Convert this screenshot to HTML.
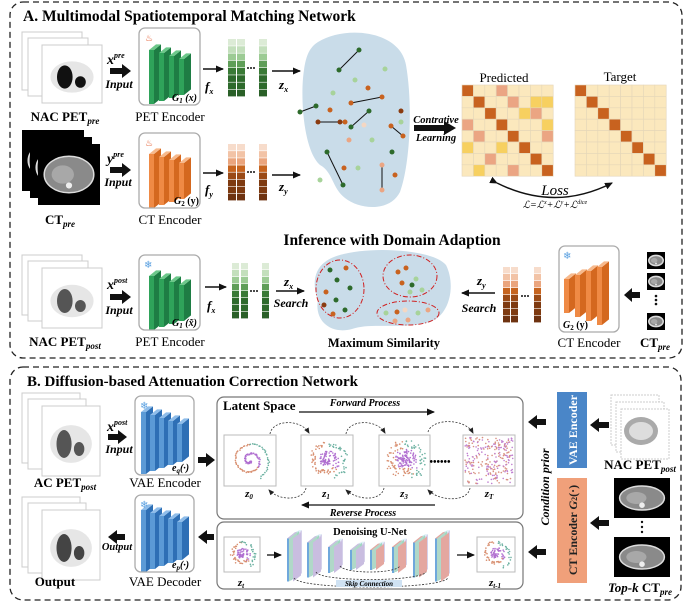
<!DOCTYPE html>
<html><head><meta charset="utf-8">
<style>
html,body{margin:0;padding:0;background:#fff;}
svg{display:block;font-family:"Liberation Serif",serif;}
.b{font-weight:bold;}
.i{font-style:italic;}
</style></head>
<body>
<svg id="s" width="685" height="604" viewBox="0 0 685 604" xmlns="http://www.w3.org/2000/svg">
<defs>
<marker id="ah" markerWidth="8" markerHeight="8" refX="7" refY="4" orient="auto" markerUnits="userSpaceOnUse"><path d="M0,0.5 L8,4 L0,7.5 Z" fill="#111"/></marker>
<marker id="ahs" markerWidth="6" markerHeight="6" refX="5" refY="3" orient="auto" markerUnits="userSpaceOnUse"><path d="M0,0.5 L6,3 L0,5.5 Z" fill="#222"/></marker>
</defs>
<!-- panels -->
<rect x="10" y="2" width="672" height="356" rx="13" fill="none" stroke="#222" stroke-width="1.3" stroke-dasharray="6,4"/>
<rect x="10" y="367" width="671" height="233" rx="13" fill="none" stroke="#222" stroke-width="1.3" stroke-dasharray="6,4"/>
<text x="23" y="21" class="b" font-size="15.5">A. Multimodal Spatiotemporal Matching Network</text>
<text x="27" y="386" class="b" font-size="15">B. Diffusion-based Attenuation Correction Network</text>

<!-- blobs -->
<path d="M318,42 C345,25 400,30 406,65 C413,105 410,165 400,192 C390,212 360,210 345,198 C332,188 333,172 320,165 C303,150 300,95 304,70 C306,55 310,47 318,42 Z" fill="#c9dce9"/>
<path d="M325,262 C345,245 430,246 446,265 C456,285 450,315 430,322 C400,330 372,322 352,329 C330,335 314,320 318,300 C312,285 314,270 325,262 Z" fill="#c9dce9"/>
<ellipse cx="340" cy="289" rx="24" ry="29" fill="none" stroke="#d02020" stroke-width="1" stroke-dasharray="5,2,1,2"/>
<ellipse cx="410" cy="276" rx="27" ry="21" fill="none" stroke="#d02020" stroke-width="1" stroke-dasharray="5,2,1,2"/>
<ellipse cx="408" cy="313" rx="31" ry="12" fill="none" stroke="#d02020" stroke-width="1" stroke-dasharray="5,2,1,2"/>

<g id="gen"></g>

<!-- encoder boxes A -->
<rect x="139" y="28" width="61" height="77" rx="6" fill="none" stroke="#aaa" stroke-width="1.3"/>
<rect x="139" y="133" width="61" height="75" rx="6" fill="none" stroke="#aaa" stroke-width="1.3"/>
<rect x="139" y="255" width="61" height="75" rx="6" fill="none" stroke="#aaa" stroke-width="1.3"/>
<rect x="559" y="246" width="60" height="86" rx="6" fill="none" stroke="#aaa" stroke-width="1.3"/>
<text x="145" y="41" font-size="9" fill="#e2572a">♨</text>
<text x="145" y="146" font-size="9" fill="#e2572a">♨</text>
<text x="144" y="268" font-size="10" fill="#5aa0e0">❄</text>
<text x="563" y="259" font-size="10" fill="#5aa0e0">❄</text>
<text x="172" y="101" class="b i" font-size="10">G<tspan font-size="7" dy="2">1</tspan><tspan dy="-2"> (x)</tspan></text>
<text x="174" y="204" class="b" font-size="10"><tspan class="i">G</tspan><tspan font-size="7" dy="2">2</tspan><tspan dy="-2"> (y)</tspan></text>
<text x="172" y="326" class="b i" font-size="10">G<tspan font-size="7" dy="2">1</tspan><tspan dy="-2"> (x̃)</tspan></text>
<text x="563" y="328" class="b" font-size="10"><tspan class="i">G</tspan><tspan font-size="7" dy="2">2</tspan><tspan dy="-2"> (y)</tspan></text>
<text x="170" y="121" font-size="13" text-anchor="middle">PET Encoder</text>
<text x="170" y="224" font-size="13" text-anchor="middle">CT Encoder</text>
<text x="170" y="346" font-size="13" text-anchor="middle">PET Encoder</text>
<text x="589" y="347" font-size="13" text-anchor="middle">CT Encoder</text>

<!-- labels left A -->
<text x="65" y="121" class="b" font-size="13" text-anchor="middle">NAC PET<tspan class="i" font-size="9" dy="3">pre</tspan></text>
<text x="60" y="224" class="b" font-size="13" text-anchor="middle">CT<tspan class="i" font-size="9" dy="3">pre</tspan></text>
<text x="65" y="346" class="b" font-size="13" text-anchor="middle">NAC PET<tspan class="i" font-size="9" dy="3">post</tspan></text>
<text x="655" y="347" class="b" font-size="13" text-anchor="middle">CT<tspan class="i" font-size="9" dy="3">pre</tspan></text>

<g class="b i" font-size="12">
<text x="107" y="64" font-size="14">x<tspan font-size="8" dy="-6">pre</tspan></text>
<text x="119" y="88" text-anchor="middle">Input</text>
<text x="107" y="163" font-size="14">y<tspan font-size="8" dy="-6">pre</tspan></text>
<text x="118" y="186" text-anchor="middle">Input</text>
<text x="107" y="289" font-size="14">x<tspan font-size="8" dy="-6">post</tspan></text>
<text x="119" y="314" text-anchor="middle">Input</text>
<text x="205" y="91" font-size="13">f<tspan font-size="8" dy="3">x</tspan></text>
<text x="205" y="194" font-size="13">f<tspan font-size="8" dy="3">y</tspan></text>
<text x="207" y="310" font-size="13">f<tspan font-size="8" dy="3">x</tspan></text>
<text x="279" y="89" font-size="13">z<tspan font-size="8" dy="3">x</tspan></text>
<text x="279" y="191" font-size="13">z<tspan font-size="8" dy="3">y</tspan></text>
<text x="284" y="286" font-size="13">z<tspan font-size="8" dy="3">x</tspan></text>
<text x="291" y="307" text-anchor="middle">Search</text>
<text x="477" y="285" font-size="13">z<tspan font-size="8" dy="3">y</tspan></text>
<text x="479" y="312" text-anchor="middle">Search</text>
<text x="436" y="123" font-size="10.5" text-anchor="middle">Contrative</text>
<text x="436" y="141" font-size="10.5" text-anchor="middle">Learning</text>
</g>

<!-- arrows A -->
<g stroke="#111" fill="none">
<line x1="203" y1="69" x2="223" y2="69" stroke-width="1.5" marker-end="url(#ah)"/>
<line x1="272" y1="71" x2="300" y2="71" stroke-width="1.5" marker-end="url(#ah)"/>
<line x1="203" y1="173" x2="223" y2="173" stroke-width="1.5" marker-end="url(#ah)"/>
<line x1="272" y1="175" x2="300" y2="175" stroke-width="1.5" marker-end="url(#ah)"/>
<line x1="205" y1="287" x2="226" y2="287" stroke-width="1.5" marker-end="url(#ah)"/>
<line x1="276" y1="291" x2="304" y2="291" stroke-width="1.5" marker-end="url(#ah)"/>
<line x1="495" y1="293" x2="462" y2="293" stroke-width="1.5" marker-end="url(#ah)"/>
<path d="M497,183 Q555,212 612,183" stroke-width="1.5" marker-end="url(#ah)" marker-start="url(#ah)"/>
</g>
<g fill="#111">
<path d="M110,68 h12 v-4 l9,7 l-9,7 v-4 h-12 Z"/>
<path d="M110,167 h12 v-4 l9,7 l-9,7 v-4 h-12 Z"/>
<path d="M110,294 h12 v-4 l9,7 l-9,7 v-4 h-12 Z"/>
<path d="M414,125 h30 v-4 l12,7 l-12,7 v-4 h-30 Z"/>
<path d="M640,292 h-8 v-4 l-8,7 l8,7 v-4 h8 Z"/>
</g>
<text x="555" y="195" class="i" font-size="15" text-anchor="middle" font-family="Liberation Serif">Loss</text>
<text x="555" y="208" class="i" font-size="10" text-anchor="middle">ℒ=ℒ<tspan font-size="6" dy="-4">x</tspan><tspan dy="4">+ℒ</tspan><tspan font-size="6" dy="-4">y</tspan><tspan dy="4">+ℒ</tspan><tspan font-size="6" dy="-4">dice</tspan></text>
<text x="504" y="82" font-size="13" text-anchor="middle">Predicted</text>
<text x="620" y="81" font-size="13" text-anchor="middle">Target</text>
<text x="392" y="245" class="b" font-size="15.5" text-anchor="middle">Inference with Domain Adaption</text>
<text x="384" y="347" class="b" font-size="12.5" text-anchor="middle">Maximum Similarity</text>

<!-- Panel B boxes -->
<rect x="135" y="396" width="59" height="79" rx="6" fill="none" stroke="#aaa" stroke-width="1.3"/>
<rect x="135" y="495" width="59" height="77" rx="6" fill="none" stroke="#aaa" stroke-width="1.3"/>
<text x="140" y="409" font-size="10" fill="#5aa0e0">❄</text>
<text x="140" y="508" font-size="10" fill="#5aa0e0">❄</text>
<text x="172" y="471" class="b i" font-size="10">e<tspan font-size="7" dy="2">q</tspan><tspan dy="-2">(·)</tspan></text>
<text x="172" y="568" class="b i" font-size="10">e<tspan font-size="7" dy="2">p</tspan><tspan dy="-2">(·)</tspan></text>
<text x="165" y="487" font-size="13" text-anchor="middle">VAE Encoder</text>
<text x="165" y="586" font-size="13" text-anchor="middle">VAE Decoder</text>
<text x="65" y="487" class="b" font-size="13" text-anchor="middle">AC PET<tspan class="i" font-size="9" dy="3">post</tspan></text>
<text x="55" y="586" class="b" font-size="13" text-anchor="middle">Output</text>
<g class="b i" font-size="12">
<text x="107" y="431" font-size="14">x<tspan font-size="8" dy="-6">post</tspan></text>
<text x="119" y="453" text-anchor="middle">Input</text>
<text x="117" y="550" font-size="10.5" text-anchor="middle">Output</text>
</g>
<g fill="#111">
<path d="M108,434 h10 v-4 l9,7 l-9,7 v-4 h-10 Z"/>
<path d="M198,457 h8 v-4 l9,7 l-9,7 v-4 h-8 Z"/>
<path d="M125,534 h-8 v-4 l-9,7 l9,7 v-4 h8 Z"/>
<path d="M214,534 h-7 v-4 l-9,7 l9,7 v-4 h7 Z"/>
<path d="M546,419 h-9 v-4 l-9,7 l9,7 v-4 h9 Z"/>
<path d="M546,549 h-9 v-4 l-9,7 l9,7 v-4 h9 Z"/>
<path d="M609,422 h-10 v-4 l-9,7 l9,7 v-4 h10 Z"/>
<path d="M609,520 h-10 v-4 l-9,7 l9,7 v-4 h10 Z"/>
</g>
<rect x="217" y="397" width="306" height="122" rx="7" fill="none" stroke="#777" stroke-width="1.2"/>
<rect x="217" y="522" width="306" height="67" rx="7" fill="none" stroke="#777" stroke-width="1.2"/>
<text x="223" y="410" class="b" font-size="13">Latent Space</text>
<text x="365" y="406" class="b i" font-size="10" text-anchor="middle">Forward Process</text>
<text x="363" y="516" class="b i" font-size="10" text-anchor="middle">Reverse Process</text>
<text x="370" y="535" class="b" font-size="10.5" text-anchor="middle">Denoising U-Net</text>
<line x1="299" y1="412" x2="434" y2="412" stroke="#111" stroke-width="1.3" marker-end="url(#ah)"/>
<line x1="435" y1="505" x2="302" y2="505" stroke="#111" stroke-width="1.3" marker-end="url(#ah)"/>
<line x1="267" y1="555" x2="281" y2="555" stroke="#111" stroke-width="1.3" marker-end="url(#ah)"/>
<line x1="457" y1="555" x2="474" y2="555" stroke="#111" stroke-width="1.3" marker-end="url(#ah)"/>
<g fill="none" stroke="#333" stroke-width="0.8" stroke-dasharray="2,1.5">
<path d="M270,434 C272,420 300,418 309,433" marker-end="url(#ahs)"/>
<path d="M346,434 C348,420 376,418 385,433" marker-end="url(#ahs)"/>
<path d="M428,432 C432,418 465,418 473,433" marker-end="url(#ahs)"/>
<path d="M306,488 C304,500 280,502 269,490" marker-end="url(#ahs)"/>
<path d="M384,488 C382,500 360,502 346,490" marker-end="url(#ahs)"/>
<path d="M470,488 C468,502 440,502 428,490" marker-end="url(#ahs)"/>
<path d="M294,578 C300,590 440,590 448,578"/>
<path d="M316,572 C320,582 420,582 426,572"/>
<path d="M340,566 C345,574 395,574 400,566"/>
</g>
<rect x="336" y="580" width="66" height="7" fill="#cfe2f3"/>
<text x="369" y="586" class="b i" font-size="7" text-anchor="middle">Skip Connection</text>
<text x="440" y="465" class="b" font-size="10" text-anchor="middle">••••••</text>
<g class="b i" font-size="11" text-anchor="middle">
<text x="249" y="497">z<tspan font-size="7" dy="2">0</tspan></text>
<text x="326" y="497">z<tspan font-size="7" dy="2">1</tspan></text>
<text x="404" y="497">z<tspan font-size="7" dy="2">3</tspan></text>
<text x="489" y="497">z<tspan font-size="7" dy="2">T</tspan></text>
<text x="241" y="586">z<tspan font-size="7" dy="2">t</tspan></text>
<text x="495" y="586">z<tspan font-size="7" dy="2">t-1</tspan></text>
</g>
<text transform="translate(549,487) rotate(-90)" class="b i" font-size="12" text-anchor="middle">Condition prior</text>
<rect x="557" y="392" width="30" height="76" fill="#4a86c8"/>
<rect x="557" y="478" width="30" height="105" fill="#f0a07a"/>
<text transform="translate(577,430) rotate(-90)" class="b" font-size="12" fill="#fff" text-anchor="middle">VAE Encoder</text>
<text transform="translate(577,530) rotate(-90)" class="b" font-size="12" fill="#222" text-anchor="middle">CT Encoder <tspan class="i">G</tspan><tspan font-size="8">2</tspan>(·)</text>
<text x="640" y="469" class="b" font-size="13" text-anchor="middle">NAC PET<tspan class="i" font-size="9" dy="3">post</tspan></text>
<text x="640" y="592" class="b" font-size="13" text-anchor="middle"><tspan class="i">Top-k</tspan> CT<tspan class="i" font-size="9" dy="3">pre</tspan></text>
</svg>
<script>
(function(){
var g=document.getElementById('gen'),NS='http://www.w3.org/2000/svg',h='';
function r(x,y,w,hh,f,extra){h+='<rect x="'+x+'" y="'+y+'" width="'+w+'" height="'+hh+'" fill="'+f+'" '+(extra||'')+'/>';}
function poly(p,f){h+='<polygon points="'+p+'" fill="'+f+'"/>';}
function c(x,y,rad,f){h+='<circle cx="'+x+'" cy="'+y+'" r="'+rad+'" fill="'+f+'"/>';}
function slab(x,y,hh,w,d,fr,sd,tp){
 r(x,y,w,hh,fr);
 poly((x+w)+','+y+' '+(x+w+d)+','+(y-d*0.8)+' '+(x+w+d)+','+(y+hh-d*0.8)+' '+(x+w)+','+(y+hh),sd);
 poly(x+','+y+' '+(x+d)+','+(y-d*0.8)+' '+(x+w+d)+','+(y-d*0.8)+' '+(x+w)+','+y,tp);
}
// encoders A
var G=['#2fa35a','#1e7d44','#6cc88a'],O=['#ef8a45','#d4681f','#f7b98c'],B=['#5b9ad6','#2e6fb5','#8fbdea'];
function enc(x0,cy,hs,col,step){for(var i=0;i<hs.length;i++){slab(x0+i*step,cy-hs[i]/2+3,hs[i],5,7,col[0],col[1],col[2]);}}
enc(149,74,[54,48,42,36],G,10);
enc(149,178,[54,48,42,36],O,10);
enc(149,300,[54,48,42,36],G,10);
enc(564,293,[34,42,50,58],O,11);
enc(141,440,[62,56,50,44,38],B,9);
enc(141,538,[62,56,50,44,38],B,9);
// feature bars
var gc=['#dcebd6','#c3dfbc','#9ccb94','#5f9e58','#3a7a36','#2e6a2c','#2e6a2c','#2a6028'];
var oc=['#f7dccb','#f2c3a6','#eaa57e','#c6641f','#9a4a16','#7e3a10','#7e3a10','#6e3210'];
function bars(xs,y0,hh,cols,w){xs.forEach(function(x){for(var i=0;i<8;i++){r(x,y0+i*hh/8,w,hh/8-0.6,cols[i]);}});}
bars([228,237,259],39,58,gc,8);
bars([228,237,259],144,57,oc,8);
bars([232,241,262],263,56,gc,7);
bars([503,511,534],267,56,oc,7);
function dots(x,y){for(var i=0;i<3;i++)c(x+i*3,y,1,'#111');}
dots(248,68);dots(248,172);dots(251,291);dots(522,296);
// matrices
var P=[[2,0,0,1,0,0,0,0],[0,2,0,0,1,0,3,3],[0,0,2,0,0,3,1,0],[1,0,0,2,0,0,0,3],[0,1,0,0,2,0,0,1],[3,0,0,3,0,2,0,0],[0,0,1,0,0,0,2,0],[0,3,0,0,1,0,0,2]];
var MC=['#fbe8bd','#eba583','#c8621f','#f7d060'],cs=11.4;
for(var i=0;i<8;i++)for(var j=0;j<8;j++){r(462+j*cs,85+i*cs,cs,cs,MC[P[i][j]],'stroke="#e4d6b8" stroke-width="0.6"');r(575+j*cs,85+i*cs,cs,cs,MC[i==j?2:0],'stroke="#e4d6b8" stroke-width="0.6"');}
// scatter A
var DG='#2d6a2b',LG='#a7d39a',OR='#c8621f',PE='#eba583',BR='#8a3b10',LP='#f4d7c3';
var L=[[339,70,359,50,DG],[318,122,340,122,BR],[351,103,382,97,OR],[369,111,351,127,DG],[391,126,403,136,OR],[382,165,382,190,PE],[327,152,343,185,DG],[316,106,300,112,DG]];
L.forEach(function(l){h+='<line x1="'+l[0]+'" y1="'+l[1]+'" x2="'+l[2]+'" y2="'+l[3]+'" stroke="#111" stroke-width="1"/>';c(l[0],l[1],2.5,l[4]);c(l[2],l[3],2.5,l[4]);});
[[333,93,LG],[385,69,LG],[368,88,OR],[364,125,LP],[401,111,BR],[401,122,LG],[349,140,PE],[372,140,LG],[392,152,DG],[358,168,LG],[344,168,OR],[320,180,LG],[330,110,OR],[355,80,LG],[395,175,OR],[345,122,OR]].forEach(function(d){c(d[0],d[1],2.5,d[2]);});
// scatter inference
[[330,270,DG],[337,280,DG],[326,292,OR],[336,300,DG],[345,310,DG],[333,314,OR],[350,288,DG],[324,305,BR],[346,268,OR],[398,272,OR],[406,268,OR],[402,283,OR],[412,285,DG],[416,279,LG],[422,290,LG],[410,292,LG],[386,313,LG],[397,312,OR],[405,310,LP],[418,313,LG],[428,310,PE],[395,321,PE],[408,320,PE]].forEach(function(d){c(d[0],d[1],2.5,d[2]);});
// scan images
function pet(x,y,w,hh,dark){r(x,y,w,hh,'#fff','stroke="#ccc" stroke-width="1"');
 h+='<ellipse cx="'+(x+w/2)+'" cy="'+(y+hh/2+3)+'" rx="'+(w*0.36)+'" ry="'+(hh*0.27)+'" fill="#e6e6e6"/>';
 h+='<ellipse cx="'+(x+w*0.38)+'" cy="'+(y+hh/2+3)+'" rx="'+(w*0.13)+'" ry="'+(hh*0.2)+'" fill="'+dark+'"/>';
 h+='<ellipse cx="'+(x+w*0.64)+'" cy="'+(y+hh/2+8)+'" rx="'+(w*0.09)+'" ry="'+(hh*0.1)+'" fill="'+dark+'"/>';}
function stack(x,y,w,hh,fn,dark){for(var i=0;i<3;i++){var xx=x+i*(i==2?10:6)+(i==2?0:0),yy=y+i*6+(i==2?1:0);if(i<2)r(xx,yy,w,hh,'#fff','stroke="#ccc" stroke-width="1"');else fn(xx,yy,w,hh,dark);}}
function ct(x,y,w,hh){r(x,y,w,hh,'#000');h+='<ellipse cx="'+(x+w/2)+'" cy="'+(y+hh/2)+'" rx="'+(w*0.4)+'" ry="'+(hh*0.3)+'" fill="#8a8a8a" stroke="#ddd" stroke-width="1.5"/>';h+='<ellipse cx="'+(x+w*0.4)+'" cy="'+(y+hh/2)+'" rx="'+(w*0.18)+'" ry="'+(hh*0.15)+'" fill="#a8a8a8"/>';c(x+w/2,y+hh*0.68,w*0.05,'#eee');}
stack(22,32,60,58,pet,'#111');
for(var i=0;i<3;i++){var xx=22+i*8,yy=130+i*7;ct(xx,yy,62,61);}
stack(22,255,60,60,pet,'#555');
stack(22,393,58,70,pet,'#555');
stack(22,497,58,70,pet,'#444');
[[647,252],[647,273],[647,313]].forEach(function(p){ct(p[0],p[1],18,17);});
[296,300,304].forEach(function(y){c(656,y,1.3,'#111');});
for(var i=0;i<3;i++){r(611+i*5,395+i*7,48,50,'#fff','stroke="#ccc" stroke-width="1" stroke-dasharray="2,1"');}
h+='<ellipse cx="641" cy="431" rx="17" ry="14" fill="#aaa"/><ellipse cx="641" cy="431" rx="12" ry="9" fill="#ddd"/>';
ct(614,478,56,40);ct(614,537,56,40);
[522,527,532].forEach(function(y){c(642,y,1.2,'#111');});
// spirals
function rnd(s){var x=Math.sin(s)*10000;return x-Math.floor(x);}
function spiral(x,y,w,hh,noise,seed,n){r(x,y,w,hh,'#fff','stroke="#bbb" stroke-width="1"');var cx=x+w/2,cy=y+hh/2,s=seed;
 for(var i=0;i<n;i++){var t=i/n*4.2*Math.PI+0.5;var rad=(t/(4.7*Math.PI))*w*0.42;var px=cx+rad*Math.cos(t)+(rnd(s++)-0.5)*noise*w,py=cy+rad*Math.sin(t)+(rnd(s++)-0.5)*noise*hh;
 var col=i<n*0.5?'#b06fd0':(i<n*0.8?'#d88f70':'#6ab0a0');c(px.toFixed(1),py.toFixed(1),0.8,col);}}
spiral(224,435,52,51,0.03,1,140);spiral(301,435,52,51,0.1,7,170);spiral(379,435,51,51,0.18,13,200);
r(463,435,52,51,'#fff','stroke="#bbb" stroke-width="1"');
for(var i=0;i<260;i++){c((465+rnd(i*3+1)*48).toFixed(1),(437+rnd(i*3+2)*47).toFixed(1),0.8,i%2?'#c080d0':'#d89080');}
spiral(224,537,36,35,0.1,21,110);spiral(477,537,38,35,0.1,31,110);
// unet
var ux=[287,307,328,350,370,392,413,435],uh=[43,35,26,20,20,26,35,43];
for(var k=0;k<8;k++){var yy=558-uh[k]/2;var back=k<4?'#c9bde0':'#e4a7a0';
 slab(ux[k]+4,yy,uh[k],3,8,'#cfe8f5','#d5d0ea','#e0f0f8');slab(ux[k]+2,yy+1,uh[k],2,8,'#8ec7e0','#a0d8c0','#d0eaf0');slab(ux[k],yy+2,uh[k],2,8,'#6fa8dc','#b0d8c8',back);
 poly((ux[k]+6)+','+(yy+2)+' '+(ux[k]+14)+','+(yy-4)+' '+(ux[k]+14)+','+(yy+uh[k]-4)+' '+(ux[k]+6)+','+(yy+uh[k]+2),back);}
g.innerHTML=h;
})();
</script>
</body></html>
